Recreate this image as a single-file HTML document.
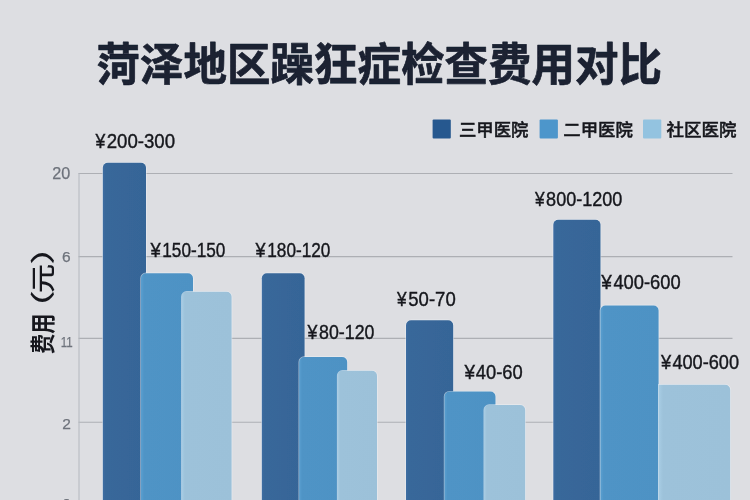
<!DOCTYPE html>
<html lang="zh-CN">
<head>
<meta charset="utf-8">
<title>菏泽地区躁狂症检查费用对比</title>
<style>
html,body{margin:0;padding:0;background:#dddee2;}
body{width:750px;height:500px;overflow:hidden;}
svg{display:block;}
.t{font-family:"Liberation Sans","Noto Sans CJK SC",sans-serif;}
</style>
</head>
<body>
<svg width="750" height="500" viewBox="0 0 750 500">
<defs>
<linearGradient id="gd" x1="0" y1="0" x2="1" y2="0"><stop offset="0" stop-color="#3d6ea3"/><stop offset="0.06" stop-color="#38679a"/><stop offset="1" stop-color="#366597"/></linearGradient>
<linearGradient id="gm" x1="0" y1="0" x2="1" y2="0"><stop offset="0" stop-color="#5a9fd0"/><stop offset="0.06" stop-color="#4f94c6"/><stop offset="1" stop-color="#4e92c4"/></linearGradient>
<linearGradient id="gl" x1="0" y1="0" x2="1" y2="0"><stop offset="0" stop-color="#a8cde4"/><stop offset="0.06" stop-color="#9dc2da"/><stop offset="1" stop-color="#9cc1d9"/></linearGradient>
<filter id="soft" x="0" y="0" width="750" height="500" filterUnits="userSpaceOnUse"><feGaussianBlur stdDeviation="0.4"/></filter>
</defs>
<rect width="750" height="500" fill="#dddee2"/>
<g filter="url(#soft)">
<rect x="-5" y="-5" width="760" height="510" fill="#dddee2"/>
<!-- title -->
<g transform="translate(379.3,80.7) scale(1,1.015)">
<text class="t" x="0" y="0" text-anchor="middle" font-size="45" font-weight="700" fill="#1a2030" stroke="#1a2030" stroke-width="0.7" stroke-linejoin="round" textLength="565.5" lengthAdjust="spacingAndGlyphs">菏泽地区躁狂症检查费用对比</text>
</g>
<!-- legend -->
<rect x="432.6" y="119.6" width="18.2" height="18.9" rx="1" fill="#28598f"/>
<text class="t" x="459" y="136.4" font-size="17.5" font-weight="500" fill="#14161b" stroke="#14161b" stroke-width="0.45" textLength="69.5" lengthAdjust="spacingAndGlyphs">三甲医院</text>
<rect x="539.6" y="119.6" width="18.3" height="18.9" rx="1" fill="#4e96cb"/>
<text class="t" x="563.3" y="136.4" font-size="17.5" font-weight="500" fill="#14161b" stroke="#14161b" stroke-width="0.45" textLength="69.5" lengthAdjust="spacingAndGlyphs">二甲医院</text>
<rect x="643" y="119.6" width="18.3" height="18.9" rx="1" fill="#93c3e0"/>
<text class="t" x="666.5" y="136.4" font-size="17.5" font-weight="500" fill="#14161b" stroke="#14161b" stroke-width="0.45" textLength="70" lengthAdjust="spacingAndGlyphs">社区医院</text>
<!-- grid -->
<g stroke="#adafb4" stroke-width="1.15" fill="none">
<line x1="78.5" y1="173.5" x2="732.5" y2="173.5"/>
<line x1="78.5" y1="256.6" x2="732.5" y2="256.6"/>
<line x1="78.5" y1="338.3" x2="732.5" y2="338.3"/>
<line x1="78.5" y1="422.2" x2="729" y2="422.2"/>
<line x1="79" y1="173" x2="79" y2="500" stroke-width="1" stroke="#b4b8bf"/>
</g>
<!-- y tick labels -->
<g class="t" font-size="15.5" fill="#6d727b" stroke="#6d727b" stroke-width="0.25" text-anchor="end">
<text x="70.3" y="179.2" font-size="16.2">20</text>
<text x="70.6" y="262.3">6</text>
<text x="72.8" y="346.8" textLength="12" lengthAdjust="spacingAndGlyphs">11</text>
<text x="70.8" y="429">2</text>
<text x="70.8" y="509">0</text>
</g>
<!-- y title -->
<g transform="translate(51.5,354) rotate(-90)" class="t" font-size="24.5" fill="#15181f">
<text y="0"><tspan x="0" font-weight="700" textLength="40.5" lengthAdjust="spacingAndGlyphs">费用</tspan><tspan x="26" font-weight="500" textLength="38" lengthAdjust="spacingAndGlyphs">（</tspan><tspan x="60.9" font-weight="500" textLength="29.2" lengthAdjust="spacingAndGlyphs">元</tspan><tspan x="89" font-weight="500" textLength="38" lengthAdjust="spacingAndGlyphs">）</tspan></text>
</g>
<!-- bars -->
<g stroke="#eef2f7" stroke-opacity="0.6" stroke-width="1.4" paint-order="stroke">
<path d="M102.8 500V167.8a5 5 0 0 1 5-5h33.2a5 5 0 0 1 5 5V500z" fill="url(#gd)"/>
<path d="M141 500V278.2a5 5 0 0 1 5-5h42.0a5 5 0 0 1 5 5V500z" fill="url(#gm)"/>
<path d="M181.8 500V296.8a5 5 0 0 1 5-5h39.8a5 5 0 0 1 5 5V500z" fill="url(#gl)"/>
<path d="M261.8 500V278.2a5 5 0 0 1 5-5h32.8a5 5 0 0 1 5 5V500z" fill="url(#gd)"/>
<path d="M299.2 500V362.0a5 5 0 0 1 5-5h38.0a5 5 0 0 1 5 5V500z" fill="url(#gm)"/>
<path d="M337.6 500V375.8a5 5 0 0 1 5-5h29.4a5 5 0 0 1 5 5V500z" fill="url(#gl)"/>
<path d="M406 500V325.2a5 5 0 0 1 5-5h37.2a5 5 0 0 1 5 5V500z" fill="url(#gd)"/>
<path d="M444.5 500V396.6a5 5 0 0 1 5-5h41.0a5 5 0 0 1 5 5V500z" fill="url(#gm)"/>
<path d="M484.2 500V410.0a5 5 0 0 1 5-5h31.0a5 5 0 0 1 5 5V500z" fill="url(#gl)"/>
<path d="M553.3 500V224.7a5 5 0 0 1 5-5h37.2a5 5 0 0 1 5 5V500z" fill="url(#gd)"/>
<path d="M600.4 500V310.5a5 5 0 0 1 5-5h48.2a5 5 0 0 1 5 5V500z" fill="url(#gm)"/>
<path d="M658.7 500V384.8h66.5a5 5 0 0 1 5 5V500z" fill="url(#gl)"/>
</g>
<!-- value labels -->
<g class="t" font-size="19.5" fill="#15171c" stroke="#15171c" stroke-width="0.4">
<text y="147.9"><tspan x="95.4" textLength="9.8" lengthAdjust="spacingAndGlyphs">¥</tspan><tspan x="106.7" textLength="68.4" lengthAdjust="spacingAndGlyphs">200-300</tspan></text>
<text y="257.1"><tspan x="150.6" textLength="10.3" lengthAdjust="spacingAndGlyphs">¥</tspan><tspan x="162.3" textLength="63.1" lengthAdjust="spacingAndGlyphs">150-150</tspan></text>
<text y="257.1"><tspan x="255.6" textLength="10.0" lengthAdjust="spacingAndGlyphs">¥</tspan><tspan x="267.3" textLength="63.1" lengthAdjust="spacingAndGlyphs">180-120</tspan></text>
<text y="339.1"><tspan x="307.6" textLength="9.9" lengthAdjust="spacingAndGlyphs">¥</tspan><tspan x="319.1" textLength="55.3" lengthAdjust="spacingAndGlyphs">80-120</tspan></text>
<text y="305.7"><tspan x="397.0" textLength="9.6" lengthAdjust="spacingAndGlyphs">¥</tspan><tspan x="408.3" textLength="47.4" lengthAdjust="spacingAndGlyphs">50-70</tspan></text>
<text y="379.1"><tspan x="464.4" textLength="10.5" lengthAdjust="spacingAndGlyphs">¥</tspan><tspan x="475.8" textLength="46.9" lengthAdjust="spacingAndGlyphs">40-60</tspan></text>
<text y="205.5"><tspan x="535.0" textLength="9.6" lengthAdjust="spacingAndGlyphs">¥</tspan><tspan x="546.1" textLength="76.3" lengthAdjust="spacingAndGlyphs">800-1200</tspan></text>
<text y="289.2"><tspan x="601.3" textLength="10.6" lengthAdjust="spacingAndGlyphs">¥</tspan><tspan x="613.4" textLength="67.3" lengthAdjust="spacingAndGlyphs">400-600</tspan></text>
<text y="369.0"><tspan x="661.0" textLength="10.2" lengthAdjust="spacingAndGlyphs">¥</tspan><tspan x="672.4" textLength="66.7" lengthAdjust="spacingAndGlyphs">400-600</tspan></text>
</g>
</g>
</svg>
</body>
</html>
